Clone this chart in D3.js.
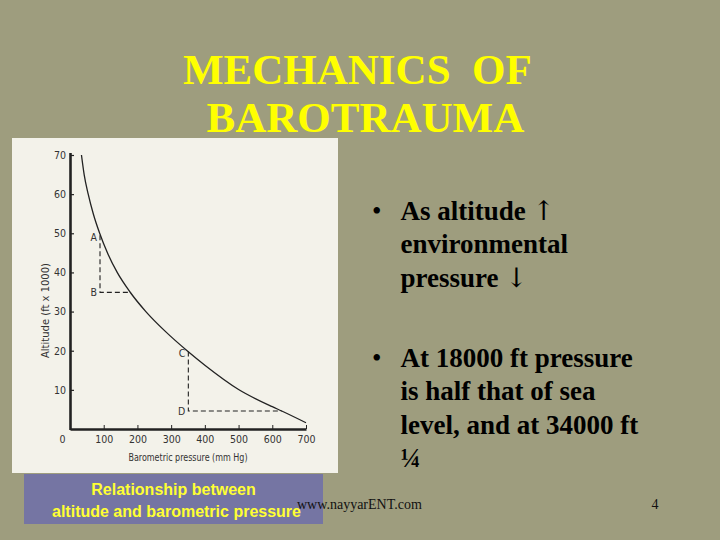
<!DOCTYPE html>
<html>
<head>
<meta charset="utf-8">
<script src="https://cdn.jsdelivr.net/npm/d3@7"></script>
<style>
  html, body { margin: 0; padding: 0; background: #9e9d7e; }
  svg { display: block; }
</style>
</head>
<body>
<svg id="chart" width="720" height="540"></svg>
<script>
// ---- data ----
const pressure = [34, 42, 54, 69, 88, 111, 140, 178, 225, 282, 350, 400, 500, 600, 628, 700]; // mmHg
const altitude = [70, 65, 60, 55, 50, 45, 40, 35, 30, 25, 19.8, 16.3, 10.1, 5.7, 4.6, 1.6];  // ft x 1000
const xTicks = [0, 100, 200, 300, 400, 500, 600, 700];
const yTicks = [10, 20, 30, 40, 50, 60, 70];
const guideAB = { labels: ["A", "B"], p: [89, 89, 178], alt: [49.5, 34.9, 34.9] };
const guideCD = { labels: ["C", "D"], p: [351, 351, 628], alt: [19.8, 4.6, 4.6] };
const titleLines = ["MECHANICS\u00A0 OF", "BAROTRAUMA"];
const bullet1 = [["As altitude ", "\u2191"], ["environmental", ""], ["pressure ", "\u2193"]];
const bullet2 = [["At 18000 ft pressure", ""], ["is half that of sea", ""], ["level, and at 34000 ft", ""], ["\u00BC", ""]];
const captionLines = ["Relationship between", "altitude and barometric pressure"];
const footerText = "www.nayyarENT.com";
const pageNumber = "4";

const svg = d3.select("#chart");
const serif = "'Liberation Serif', 'Times New Roman', serif";
const narrow = "'DejaVu Sans Condensed', 'Liberation Sans Narrow', sans-serif";

// background
svg.append("rect").attr("width", 720).attr("height", 540).attr("fill", "#9e9d7e");

// title
svg.append("g").selectAll("text").data(titleLines).join("text")
  .attr("x", (d, i) => i === 0 ? 183 : 206.5)
  .attr("y", (d, i) => i === 0 ? 83.5 : 132)
  .attr("font-family", serif).attr("font-weight", "bold").attr("font-size", 43)
  .attr("fill", "#ffff00")
  .text(d => d);

// chart image panel
svg.append("rect").attr("x", 12).attr("y", 138).attr("width", 326).attr("height", 335)
  .attr("fill", "#f3f2ea");

const x = d3.scaleLinear().domain([0, 700]).range([70, 306]);
const y = d3.scaleLinear().domain([0, 70]).range([429, 155]);

const ink = "#222";

// x axis
const gx = svg.append("g").attr("transform", `translate(0,${y(0)})`)
  .call(d3.axisBottom(x).tickValues(xTicks).tickSize(-4).tickSizeOuter(0).tickPadding(7));
gx.select(".domain").attr("stroke", ink).attr("stroke-width", 2.6);
gx.selectAll(".tick line").attr("stroke", ink).attr("stroke-width", 1);
gx.selectAll(".tick text").attr("font-family", narrow).attr("font-size", 10.5).attr("fill", "#333")
  .attr("dx", d => d === 0 ? -8 : 0);
gx.selectAll(".tick").filter(d => d === 0).select("line").remove();

// y axis
const gy = svg.append("g").attr("transform", `translate(${x(0)},0)`)
  .call(d3.axisLeft(y).tickValues(yTicks).tickSize(-4).tickSizeOuter(0).tickPadding(4));
gy.select(".domain").attr("stroke", ink).attr("stroke-width", 2.6)
  .attr("d", `M0.5,${y(0) + 1}V${y(70) - 2}`);
gy.selectAll(".tick line").attr("stroke", ink).attr("stroke-width", 1.2);
gy.selectAll(".tick text").attr("font-family", narrow).attr("font-size", 10.5).attr("fill", "#333");

// axis titles
svg.append("text").attr("x", 128.5).attr("y", 461)
  .attr("textLength", 119).attr("lengthAdjust", "spacingAndGlyphs")
  .attr("font-family", narrow).attr("font-size", 10.5).attr("fill", "#333")
  .text("Barometric pressure (mm Hg)");
svg.append("text").attr("transform", "translate(49,358) rotate(-90)")
  .attr("textLength", 95).attr("lengthAdjust", "spacingAndGlyphs")
  .attr("font-family", narrow).attr("font-size", 10.5).attr("fill", "#333")
  .text("Altitude (ft x 1000)");

// curve
const pts = pressure.map((p, i) => [p, altitude[i]]);
svg.append("path").datum(pts)
  .attr("fill", "none").attr("stroke", ink).attr("stroke-width", 1.3)
  .attr("d", d3.line().x(d => x(d[0])).y(d => y(d[1])).curve(d3.curveMonotoneX));

// guide triangles
[guideAB, guideCD].forEach(g => {
  const gp = g.p.map((p, i) => [p, g.alt[i]]);
  svg.append("path").datum(gp)
    .attr("fill", "none").attr("stroke", ink).attr("stroke-width", 1.1)
    .attr("stroke-dasharray", "5,3")
    .attr("d", d3.line().x(d => x(d[0])).y(d => y(d[1])));
  svg.append("text").attr("x", x(g.p[0]) - 3).attr("y", y(g.alt[0]) + 6)
    .attr("text-anchor", "end").attr("font-family", narrow).attr("font-size", 10.5).attr("fill", "#333")
    .text(g.labels[0]);
  svg.append("text").attr("x", x(g.p[1]) - 3).attr("y", y(g.alt[1]) + 4)
    .attr("text-anchor", "end").attr("font-family", narrow).attr("font-size", 10.5).attr("fill", "#333")
    .text(g.labels[1]);
});

// bullets
const bulletBlocks = [
  { lines: bullet1, base: 220 },
  { lines: bullet2, base: 367 }
];
bulletBlocks.forEach(b => {
  svg.append("text").attr("x", 372).attr("y", b.base)
    .attr("font-family", serif).attr("font-size", 27).attr("fill", "#000").text("\u2022");
  const t = svg.append("g").selectAll("text").data(b.lines).join("text")
    .attr("x", 400.5).attr("y", (d, i) => b.base + i * 33.4)
    .attr("font-family", serif).attr("font-weight", "bold").attr("font-size", 27)
    .attr("fill", "#000");
  t.append("tspan").text(d => d[0]);
  t.append("tspan").attr("font-family", "'DejaVu Serif', serif").attr("font-weight", "normal")
    .attr("fill", "#000").text(d => d[1] ? d[1] + "\uFE0E" : "");
});

// caption box
svg.append("rect").attr("x", 24).attr("y", 474).attr("width", 299).attr("height", 50)
  .attr("fill", "#7575a3");
svg.append("g").selectAll("text").data(captionLines).join("text")
  .attr("x", (d, i) => i === 0 ? 173.5 : 176.5)
  .attr("y", (d, i) => i === 0 ? 494.5 : 517)
  .attr("text-anchor", "middle")
  .attr("font-family", "'Liberation Sans', Arial, sans-serif").attr("font-weight", "bold")
  .attr("font-size", 16).attr("fill", "#ffff33")
  .text(d => d);

// footer
svg.append("text").attr("x", 297).attr("y", 508.5)
  .attr("font-family", serif).attr("font-size", 14).attr("fill", "#111").text(footerText);
svg.append("text").attr("x", 651.5).attr("y", 508.5)
  .attr("font-family", serif).attr("font-size", 14).attr("fill", "#111").text(pageNumber);
</script>
</body>
</html>
